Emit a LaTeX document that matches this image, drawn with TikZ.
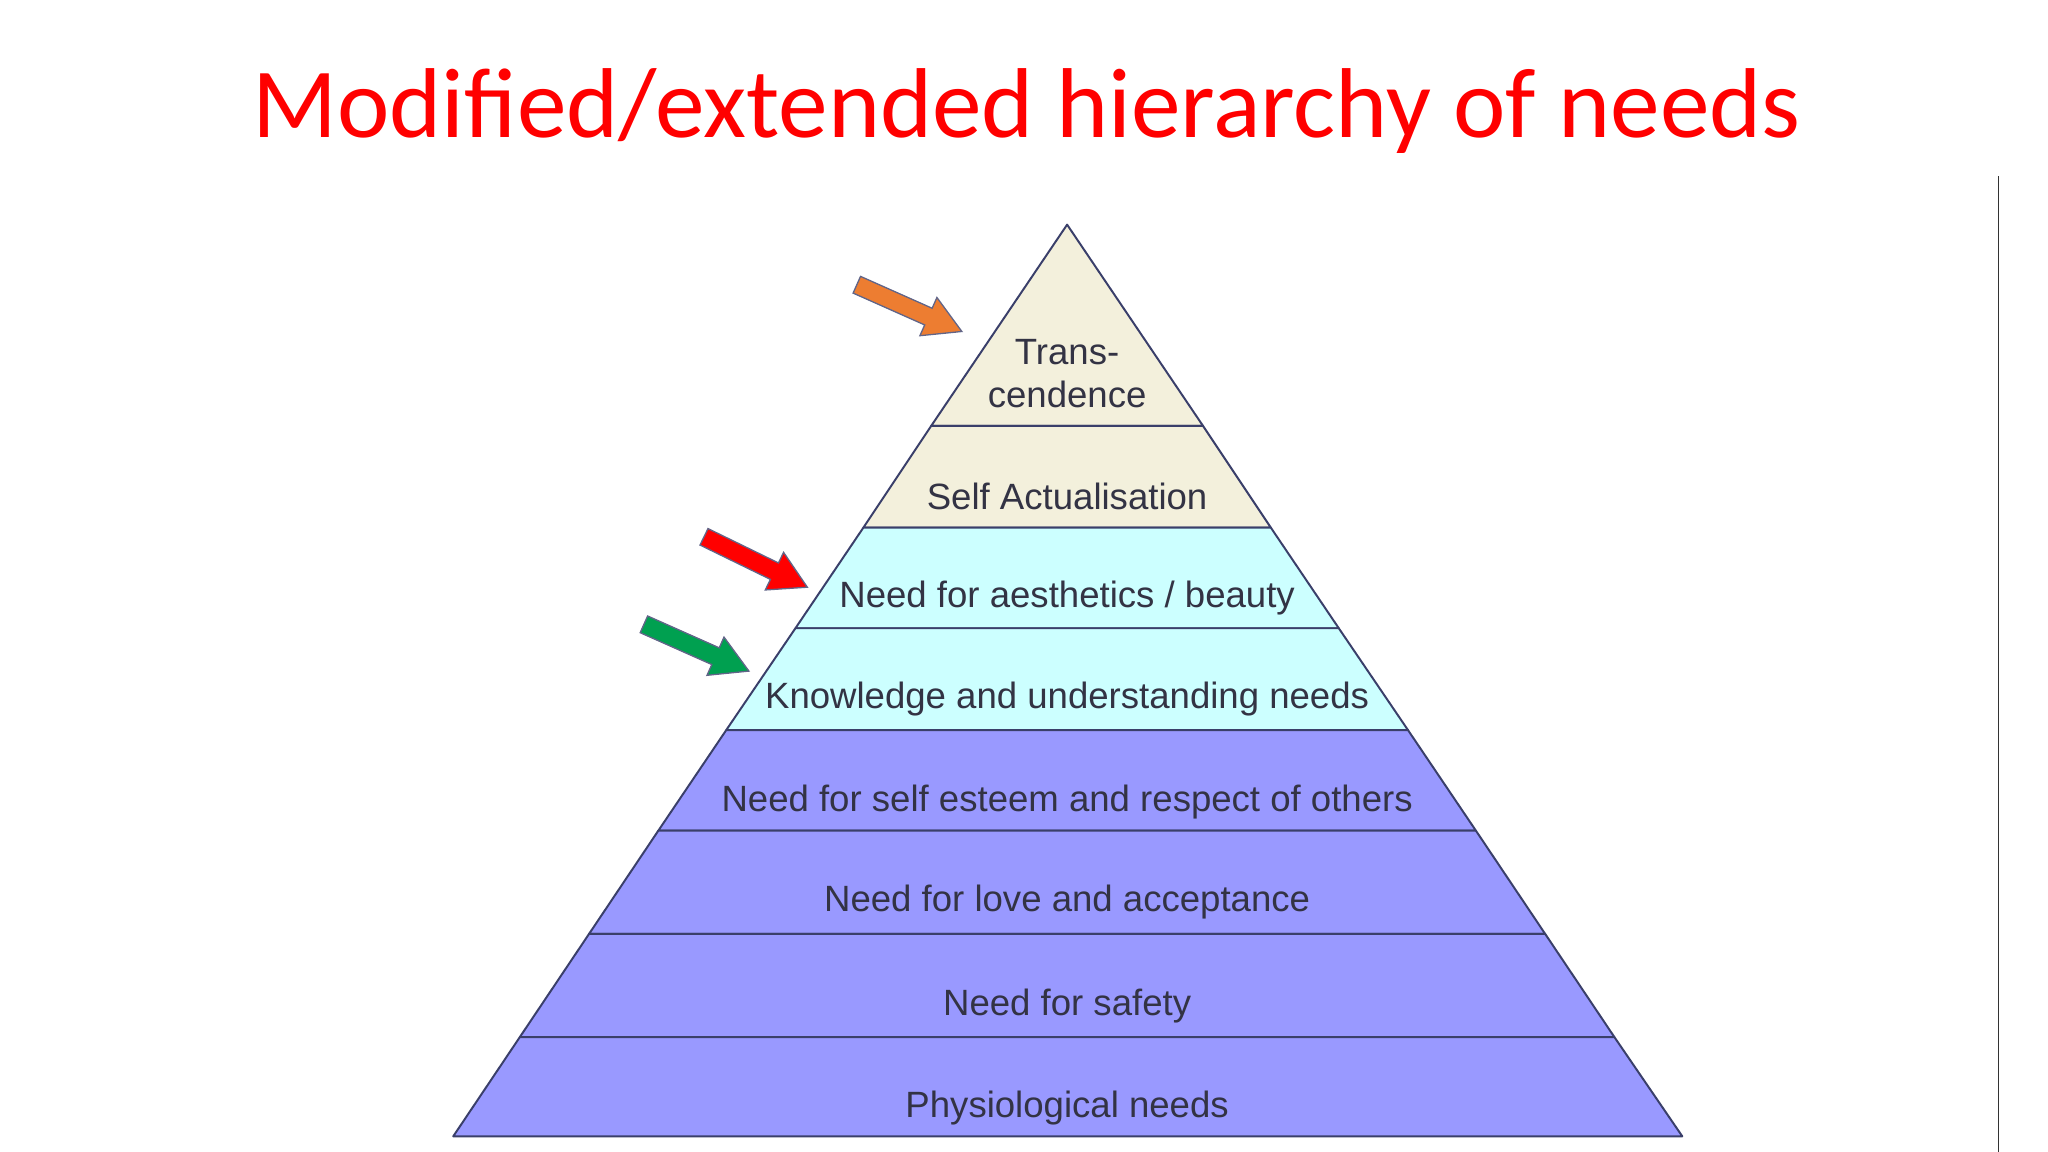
\documentclass[tikz,border=0pt]{standalone}
\usepackage{fontspec}
\setmainfont{Liberation Sans}
\newfontfamily\titlefont{Carlito}
\definecolor{beige}{HTML}{F3F0DC}
\definecolor{cyanl}{HTML}{CCFFFF}
\definecolor{bluel}{HTML}{9999FF}
\definecolor{edge}{HTML}{3A3F6A}
\definecolor{txt}{HTML}{333344}
\definecolor{orangea}{HTML}{ED7D31}
\definecolor{greena}{HTML}{00A050}
\tikzset{
  lvl/.style={draw=edge,line width=1.5pt,line join=round},
  lab/.style={font=\fontsize{28}{33}\selectfont,text=txt,align=center},
  blockarrow/.style={draw=edge!80,line width=1pt,line join=miter},
}
\newcommand{\blockarr}[4]{% x,y (tail), angle, colour
  \begin{scope}[shift={(#1,#2)},rotate=#3]
    \filldraw[blockarrow,fill=#4] (0,-7) -- (60,-7) -- (60,-16) -- (88,0) -- (60,16) -- (60,7) -- (0,7) -- cycle;
  \end{scope}}
\begin{document}
\begin{tikzpicture}[x=1pt,y=-1pt]
\useasboundingbox (0,0) rectangle (1568,882);
\fill[white] (0,0) rectangle (1568,882);
\node[font=\titlefont\fontsize{76}{84}\selectfont,text=red] (title) at (786,85) {Modified/extended hierarchy of needs};
\draw[line width=1pt,black!80] (1530,135) coordinate (vt) -- (1530,882) coordinate (vb);
\coordinate (A) at (817,172);
\coordinate (l1) at (713,326); \coordinate (r1) at (921,326);
\coordinate (l2) at (661,404); \coordinate (r2) at (973,404);
\coordinate (l3) at (609,481); \coordinate (r3) at (1025,481);
\coordinate (l4) at (556,559); \coordinate (r4) at (1078,559);
\coordinate (l5) at (504,636); \coordinate (r5) at (1130,636);
\coordinate (l6) at (451,715); \coordinate (r6) at (1183,715);
\coordinate (l7) at (398,794); \coordinate (r7) at (1236,794);
\coordinate (l8) at (347,870); \coordinate (r8) at (1288,870);
\filldraw[lvl,fill=beige] (A) -- (r1) -- (l1) -- cycle;
\filldraw[lvl,fill=beige] (l1) -- (r1) -- (r2) -- (l2) -- cycle;
\filldraw[lvl,fill=cyanl] (l2) -- (r2) -- (r3) -- (l3) -- cycle;
\filldraw[lvl,fill=cyanl] (l3) -- (r3) -- (r4) -- (l4) -- cycle;
\filldraw[lvl,fill=bluel] (l4) -- (r4) -- (r5) -- (l5) -- cycle;
\filldraw[lvl,fill=bluel] (l5) -- (r5) -- (r6) -- (l6) -- cycle;
\filldraw[lvl,fill=bluel] (l6) -- (r6) -- (r7) -- (l7) -- cycle;
\filldraw[lvl,fill=bluel] (l7) -- (r7) -- (r8) -- (l8) -- cycle;
\node[lab] (t1) at (817,286) {Trans-\\cendence};
\node[lab] (t2) at (817,380) {Self Actualisation};
\node[lab] (t3) at (817,458) {Need for aesthetics / beauty};
\node[lab] (t4) at (817,535) {Knowledge and understanding needs};
\node[lab] (t5) at (817,614) {Need for self esteem and respect of others};
\node[lab] (t6) at (817,691) {Need for love and acceptance};
\node[lab] (t7) at (817,770) {Need for safety};
\node[lab] (t8) at (817,848) {Physiological needs};
\blockarr{656}{218}{-24}{orangea}
\blockarr{539}{411}{-26}{red}
\blockarr{493}{478}{-24}{greena}
\end{tikzpicture}
\end{document}
